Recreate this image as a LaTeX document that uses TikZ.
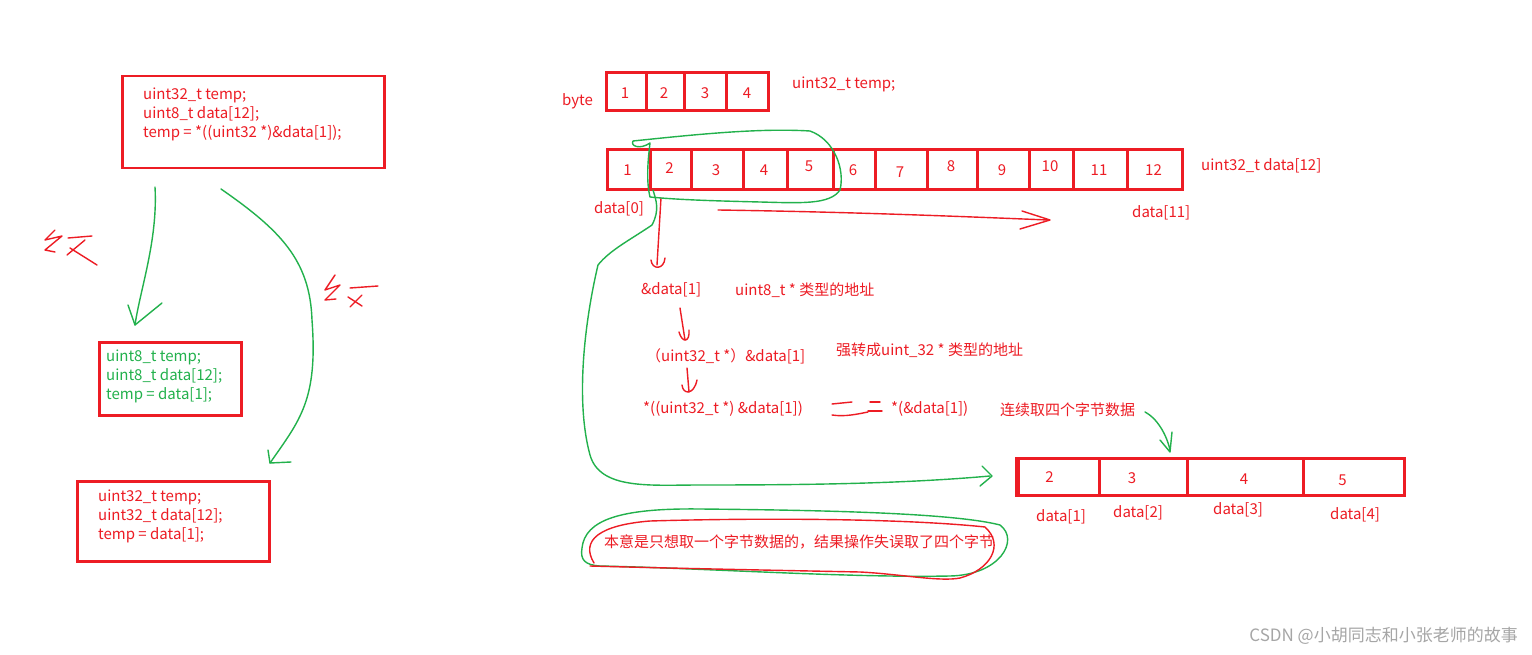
\documentclass[tikz,border=0pt]{standalone}
\usepackage{fontspec}
\setmainfont{Noto Sans CJK SC}
\definecolor{rd}{RGB}{237,28,36}
\definecolor{gn}{RGB}{34,177,76}
\begin{document}
\begin{tikzpicture}[x=1pt,y=-1pt,
  cell/.style={draw=rd,line width=3pt},
  rtxt/.style={text=rd,font=\fontsize{15}{19}\selectfont,anchor=west,inner sep=0pt},
  gtxt/.style={text=gn,font=\fontsize{15}{19}\selectfont,anchor=west,inner sep=0pt},
  gline/.style={draw=gn,line width=1.4pt,line cap=round,line join=round},
  rline/.style={draw=rd,line width=1.4pt,line cap=round,line join=round}]
\useasboundingbox[fill=white] (0,0) rectangle (1532,655);
% left boxes
\node[cell,line width=2.5pt,minimum width=262pt,minimum height=92pt,anchor=north west] (b1) at (121,75) {};
\node[rtxt,align=left] (t1) at (143,114) {uint32\_t temp;\\uint8\_t data[12];\\temp = *((uint32 *)\&data[1]);};
\node[cell,line width=2.5pt,minimum width=142pt,minimum height=73pt,anchor=north west] (b2) at (98,341) {};
\node[gtxt,align=left] (t2) at (106,376) {uint8\_t temp;\\uint8\_t data[12];\\temp = data[1];};
\node[cell,line width=2.5pt,minimum width=192pt,minimum height=80pt,anchor=north west] (b3) at (76,480) {};
\node[rtxt,align=left] (t3) at (98,516) {uint32\_t temp;\\uint32\_t data[12];\\temp = data[1];};
\coordinate (s1) at (155,187); \coordinate (e1) at (135,325);
\coordinate (s2) at (221,189); \coordinate (e2) at (270,463);
\draw[gline] (s1) .. controls (158,240) and (140,290) .. (e1);
\draw[gline] (128,305) -- (e1) -- (162,303);
\draw[gline] (s2) .. controls (280,230) and (310,260) .. (312,320) .. controls (318,400) and (300,420) .. (e2);
\draw[gline] (268,450) -- (e2) -- (291,462);
% 改 marks
\draw[rline] (55,230) -- (45,240) -- (62,236) -- (45,250) -- (55,252);
\draw[rline] (68,238) -- (92,236); \draw[rline] (70,248) -- (97,265); \draw[rline] (85,240) -- (67,255);
\draw[rline] (335,275) -- (325,290) -- (340,285) -- (325,300) -- (336,299);
\draw[rline] (350,288) -- (378,286); \draw[rline] (348,297) -- (362,306); \draw[rline] (362,295) -- (350,307);
% byte row
\node[rtxt] (byte) at (562,101) {byte};
\foreach \a/\b/\n [count=\i] in {605/645/1,645/683/2,683/725/3,725/767/4}
  \node[cell,minimum width={\b-\a},minimum height=38pt,anchor=north west] (by\i) at (\a,71) {};
\foreach \i/\n/\x in {1/1/625,2/2/664,3/3/705,4/4/747}
  \node[text=rd,font=\fontsize{15}{19}\selectfont] at (\x,93) {\n};
\node[rtxt] (bt) at (792,84) {uint32\_t temp;};
% data row
\foreach \a/\b/\n/\dy [count=\i] in {606/649/1/0,649/690/2/-2,690/742/3/0,742/786/4/0,786/832/5/-4,832/874/6/0,874/926/7/2,926/976/8/-4,976/1028/9/0,1028/1072/10/-4,1072/1126/11/0,1126/1181/12/0}
  {\node[cell,minimum width={\b-\a},minimum height=40pt,anchor=north west] (d\i) at (\a,148) {};
   \node[text=rd,font=\fontsize{15}{19}\selectfont] at ({(\a+\b)/2},170+\dy) {\n};}
\node[rtxt] (dl) at (1201,166) {uint32\_t data[12]};
\node[rtxt] (d0) at (594,209) {data[0]};
\node[rtxt] (d11) at (1132,213) {data[11]};
\draw[rline] (718,210) .. controls (850,212) and (950,216) .. (1048,220);
\draw[rline] (1022,211) -- (1050,220) -- (1020,229);
% chain
\draw[rline] (661,198) -- (657,265); \draw[rline] (651,260) .. controls (652,270) and (664,270) .. (665,258);
\node[rtxt] (a1) at (641,290) {\&data[1]};
\node[rtxt] (a1c) at (735,290) {uint8\_t * 类型的地址};
\draw[rline] (680,308) -- (685,340); \draw[rline] (679,332) .. controls (682,343) and (690,343) .. (689,330);
\node[rtxt] (a2) at (646,356) {（uint32\_t *）\&data[1]};
\node[rtxt] (a2c) at (836,350) {强转成uint\_32 * 类型的地址};
\draw[rline] (687,368) -- (689,392); \draw[rline] (682,385) .. controls (683,395) and (694,395) .. (697,380);
\node[rtxt] (a3) at (643,409) {*((uint32\_t *) \&data[1])};
\draw[rline] (832,404) -- (852,402); \draw[rline] (832,415) .. controls (845,417) and (858,414) .. (868,412);
\draw[rline] (870,402) -- (880,402); \draw[rline] (868,411) -- (882,411);
\node[rtxt] (a4) at (891,409) {*(\&data[1])};
\node[rtxt] (a5) at (1000,410) {连续取四个字节数据};
\draw[gline] (1145,412) .. controls (1160,420) and (1168,440) .. (1170,450);
\draw[gline] (1160,440) -- (1170,452) -- (1172,432);
% right boxes
\foreach \a/\b/\n [count=\i] in {1015/1098/2,1098/1186/3,1186/1302/4,1302/1403/5}
  {\node[cell,minimum width={\b-\a},minimum height=37pt,anchor=north west] (r\i) at (\a,457) {};
   \node[text=rd,font=\fontsize{15}{19}\selectfont] at ({\a+(\b-\a)/2-(\i==3?0:10)+(\i==1?3:0)},476+\i) {\n};}
\draw[rd,line width=2pt] (1019,457) -- (1019,494);
\foreach \t/\x/\y in {data[1]/1036/517,data[2]/1113/513,data[3]/1213/510,data[4]/1330/515}
  \node[rtxt] at (\x,\y) {\t};
% green selection loop and arrow
\draw[gline] (633,141) .. controls (700,134) and (760,128) .. (810,131) .. controls (835,140) and (845,170) .. (840,190)
  .. controls (830,205) and (800,203) .. (760,202) .. controls (720,201) and (680,200) .. (650,197)
  .. controls (646,180) and (648,160) .. (650,143) .. controls (640,150) and (630,146) .. (633,141);
\draw[gline] (653,190) .. controls (656,200) and (660,210) .. (652,225) .. controls (630,240) and (610,250) .. (598,265)
  .. controls (585,320) and (575,400) .. (590,455) .. controls (600,490) and (650,485) .. (700,485)
  .. controls (800,485) and (900,484) .. (990,476);
\draw[gline] (982,466) -- (992,476) -- (980,486);
% bottom note
\node[rtxt] (note) at (604,542) {本意是只想取一个字节数据的，结果操作失误取了四个字节};
\draw[gline] (582,548) .. controls (585,520) and (620,508) .. (700,509) .. controls (800,510) and (950,512) .. (1000,525)
  .. controls (1020,540) and (1000,575) .. (950,576) .. controls (850,578) and (700,568) .. (600,566) .. controls (585,565) and (580,560) .. (582,548);
\draw[rline] (594,563) .. controls (580,540) and (600,525) .. (650,521) .. controls (750,518) and (900,518) .. (985,527)
  .. controls (1005,545) and (990,570) .. (960,578) .. controls (940,582) and (900,574) .. (860,572)
  .. controls (760,570) and (660,568) .. (590,566);
\node[text=gray!70,font=\fontsize{17}{20}\selectfont,anchor=east,inner sep=0pt] (csdn) at (1518,636) {CSDN @小胡同志和小张老师的故事};
\end{tikzpicture}
\end{document}
